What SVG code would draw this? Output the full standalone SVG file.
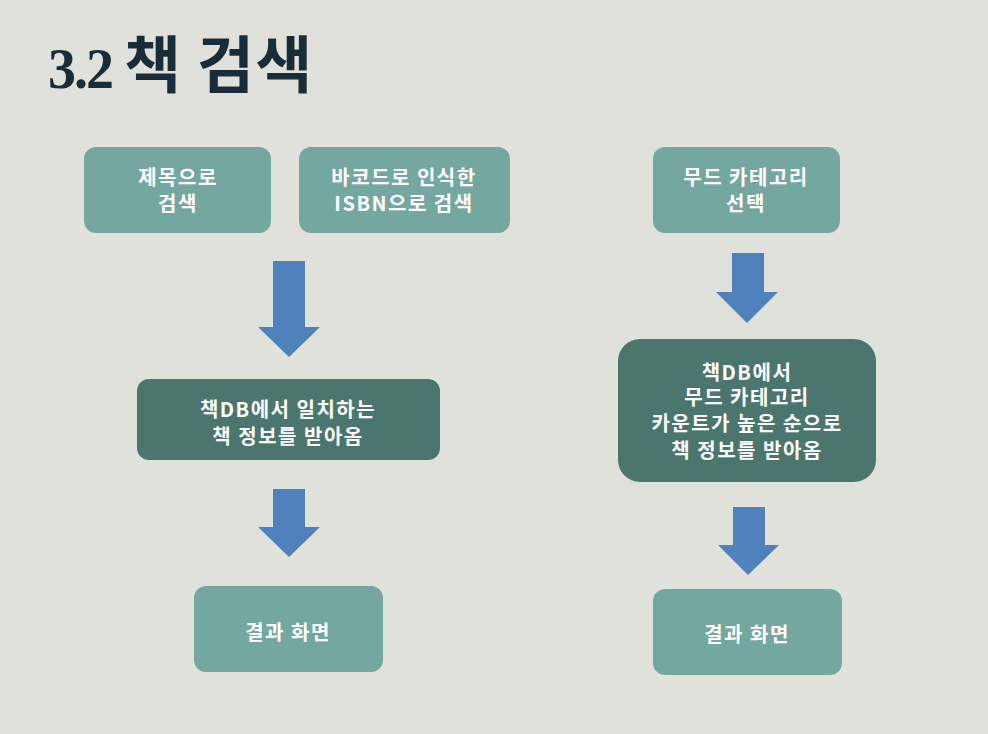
<svg xmlns="http://www.w3.org/2000/svg" width="988" height="734" viewBox="0 0 988 734">
<style>
.l{fill:#74a7a0}.d{fill:#4a766e}
.t{font-family:"Noto Sans CJK KR","Noto Sans",sans-serif;font-weight:bold;font-size:20px;letter-spacing:1.5px;fill:#fff;text-anchor:middle}
.a{fill:#4f81bd}
</style>
<rect width="988" height="734" fill="#e0e1da"/>
<text x="48" y="88" font-family="'Liberation Serif',serif" font-weight="bold" font-size="56" fill="#182d38" letter-spacing="-2">3.2 <tspan font-family="'Noto Sans CJK KR',sans-serif" font-size="62" letter-spacing="1">책 검색</tspan></text>
<g id="n1"><rect class="l" x="84" y="147" width="187" height="86" rx="12"/><text class="t" x="178" y="185">제목으로</text><text class="t" x="178" y="211">검색</text></g>
<g id="n2"><rect class="l" x="299" y="147" width="211" height="86" rx="12"/><text class="t" x="404" y="185">바코드로 인식한</text><text class="t" x="404" y="211">ISBN으로 검색</text></g>
<g id="n3"><rect class="l" x="653" y="147" width="187" height="86" rx="12"/><text class="t" x="746" y="185">무드 카테고리</text><text class="t" x="746" y="211">선택</text></g>
<g id="n4"><rect class="d" x="137" y="379" width="303" height="81" rx="12"/><text class="t" x="288" y="417">책DB에서 일치하는</text><text class="t" x="288" y="444">책 정보를 받아옴</text></g>
<g id="n5"><rect class="l" x="194" y="586" width="189" height="86" rx="12"/><text class="t" x="288" y="640">결과 화면</text></g>
<g id="n6"><rect class="d" x="618" y="339" width="258" height="143" rx="22"/><text class="t" x="747" y="380">책DB에서</text><text class="t" x="747" y="405">무드 카테고리</text><text class="t" x="747" y="431">카운트가 높은 순으로</text><text class="t" x="747" y="458">책 정보를 받아옴</text></g>
<g id="n7"><rect class="l" x="653" y="589" width="189" height="86" rx="12"/><text class="t" x="747" y="642">결과 화면</text></g>
<g id="connectors">
<polygon class="a" points="273,261 305,261 305,327 320,327 289,357 258,327 273,327"/>
<polygon class="a" points="273,489 305,489 305,527 320,527 289,557 258,527 273,527"/>
<polygon class="a" points="732,253 764,253 764,292 778,292 747,323 716,292 732,292"/>
<polygon class="a" points="733,507 765,507 765,545 779,545 748,575 718,545 733,545"/>
</g>
</svg>
